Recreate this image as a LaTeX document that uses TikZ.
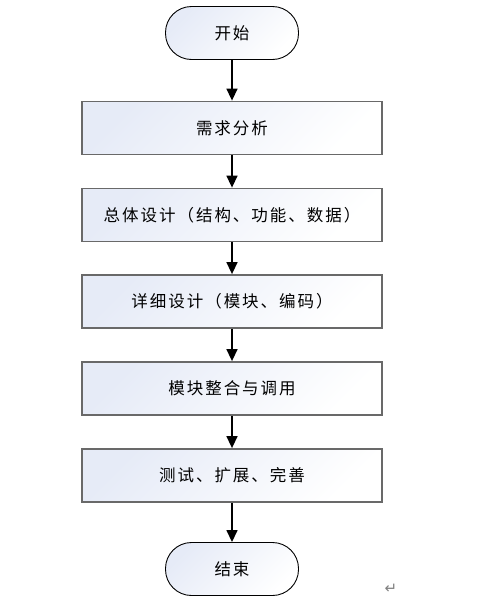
\documentclass[tikz,border=0pt]{standalone}
\usepackage{fontspec}
\usetikzlibrary{arrows.meta}
\newfontfamily\cjk[LetterSpace=12]{Noto Sans CJK SC}
\newfontfamily\symfont{DejaVu Sans}
\definecolor{boxgray}{RGB}{105,105,105}
\definecolor{fadeblue}{RGB}{230,235,247}

\begin{document}
\begin{tikzpicture}[x=1pt,y=-1pt,
  every node/.style={font=\cjk\fontsize{16.5}{19}\selectfont},
  term/.style={draw=black,line width=0.9pt,rounded corners=26pt,minimum width=133pt,minimum height=53pt,inner sep=0pt,top color=fadeblue,bottom color=white,shading angle=45},
  stage/.style={draw=boxgray,line width=1.8pt,minimum width=300pt,minimum height=53pt,inner sep=0pt,top color=fadeblue,bottom color=white,shading angle=45},
  flow/.style={-{Triangle[length=12pt,width=11pt]},line width=1.5pt}]
  \useasboundingbox (0,0) rectangle (480,608);
  \node[term] (start) at (232,33) {开始};
  \node[stage] (analysis) at (232,128) {需求分析};
  \node[stage] (design) at (232,215) {总体设计（结构、功能、数据）};
  \node[stage] (detail) at (232,301.5) {详细设计（模块、编码）};
  \node[stage] (merge) at (232,388.5) {模块整合与调用};
  \node[stage] (test) at (232,475.5) {测试、扩展、完善};
  \node[term] (finish) at (232,569) {结束};
  \foreach \a/\b in {start/analysis,analysis/design,design/detail,detail/merge,merge/test,test/finish}
    \draw[flow] (\a) -- (\b);
  \node[text=gray,font=\symfont\fontsize{15}{17}\selectfont] (mark) at (391,589) {↵};
\end{tikzpicture}
\end{document}
